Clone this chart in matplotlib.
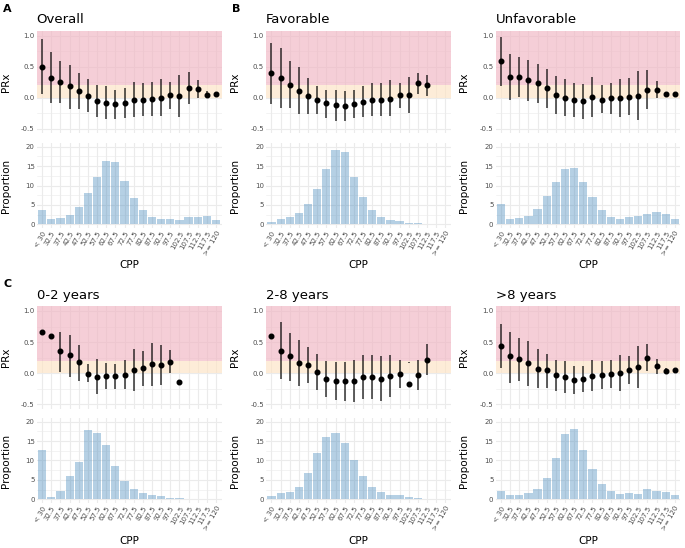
import matplotlib
matplotlib.use("Agg")
import matplotlib.pyplot as plt
import numpy as np

nan = np.nan

cpp_labels = ["< 30", "32.5", "37.5", "42.5", "47.5", "52.5", "57.5", "62.5", "67.5",
              "72.5", "77.5", "82.5", "87.5", "92.5", "97.5", "102.5", "107.5",
              "112.5", "117.5", ">= 120"]

# Overall
overall_prx = [0.50, 0.32, 0.25, 0.18, 0.11, 0.03, -0.05, -0.08, -0.10, -0.09,
               -0.04, -0.03, -0.02, 0.00, 0.04, 0.02, 0.15, 0.145, 0.04, 0.06]
overall_lo = [0.06, -0.09, -0.09, -0.18, -0.19, -0.23, -0.31, -0.34, -0.34, -0.33,
              -0.32, -0.29, -0.30, -0.29, -0.18, -0.32, -0.11, 0.00, 0.00, nan]
overall_hi = [0.94, 0.74, 0.59, 0.53, 0.40, 0.30, 0.20, 0.18, 0.13, 0.16,
              0.25, 0.23, 0.25, 0.30, 0.26, 0.36, 0.41, 0.28, 0.10, nan]
overall_prop = [3.7, 1.4, 1.6, 2.4, 4.5, 8.0, 12.2, 16.3, 16.0, 11.2,
                6.8, 3.6, 1.9, 1.4, 1.4, 1.1, 1.9, 1.8, 2.1, 1.2]

# Favorable
fav_prx = [0.39, 0.32, 0.21, 0.11, 0.03, -0.04, -0.09, -0.12, -0.13, -0.11,
           -0.065, -0.03, -0.03, -0.015, 0.04, 0.04, 0.24, 0.20, nan, nan]
fav_lo = [-0.10, -0.16, -0.17, -0.26, -0.26, -0.26, -0.33, -0.37, -0.37, -0.33,
          -0.32, -0.29, -0.29, -0.29, -0.16, -0.24, 0.06, 0.03, nan, nan]
fav_hi = [0.88, 0.80, 0.59, 0.49, 0.32, 0.19, 0.13, 0.12, 0.10, 0.13,
          0.19, 0.23, 0.23, 0.28, 0.23, 0.33, 0.40, 0.36, nan, nan]
fav_prop = [0.6, 1.3, 1.8, 2.8, 5.2, 9.1, 14.2, 19.1, 18.6, 12.2,
            7.0, 3.7, 1.9, 1.1, 0.8, 0.35, 0.25, 0.1, 0.02, 0.0]

# Unfavorable
unfav_prx = [0.59, 0.33, 0.33, 0.28, 0.23, 0.15, 0.04, 0.00, -0.04, -0.06,
             0.01, -0.03, -0.01, -0.01, 0.01, 0.02, 0.12, 0.13, 0.065, 0.055]
unfav_lo = [0.19, -0.04, 0.01, -0.05, -0.08, -0.16, -0.27, -0.30, -0.32, -0.34,
            -0.32, -0.25, -0.26, -0.31, -0.28, -0.36, -0.19, 0.00, nan, nan]
unfav_hi = [0.98, 0.70, 0.65, 0.61, 0.54, 0.46, 0.35, 0.30, 0.23, 0.22,
            0.34, 0.20, 0.24, 0.30, 0.31, 0.43, 0.44, 0.27, nan, nan]
unfav_prop = [5.2, 1.4, 1.6, 2.1, 4.0, 7.4, 10.9, 14.2, 14.4, 10.9,
              7.0, 3.6, 1.9, 1.4, 2.0, 2.1, 2.6, 3.1, 2.7, 1.4]

# 0-2 years
y02_prx = [0.66, 0.60, 0.35, 0.29, 0.18, -0.005, -0.06, -0.05, -0.05, -0.02,
           0.05, 0.08, 0.15, 0.125, 0.185, -0.135, nan, nan, nan, nan]
y02_lo = [0.195, 0.145, 0.02, -0.06, -0.125, -0.14, -0.34, -0.245, -0.245, -0.26,
          -0.28, -0.21, -0.20, -0.19, 0.005, nan, nan, nan, nan, nan]
y02_hi = [0.205, 0.155, 0.67, 0.62, 0.45, 0.15, 0.23, 0.16, 0.15, 0.22,
          0.39, 0.36, 0.49, 0.45, 0.37, nan, nan, nan, nan, nan]
y02_prop = [12.6, 0.5, 2.2, 6.0, 9.5, 17.9, 17.0, 13.9, 8.5, 4.8,
            2.6, 1.7, 1.0, 0.75, 0.25, 0.25, 0.05, 0.0, 0.0, 0.0]

# 2-8 years
y28_prx = [0.60, 0.36, 0.27, 0.16, 0.135, 0.02, -0.09, -0.125, -0.125, -0.125,
           -0.065, -0.065, -0.09, -0.045, -0.005, -0.175, -0.03, 0.22, nan, nan]
y28_lo = [-0.08, -0.09, -0.12, -0.21, -0.16, -0.27, -0.375, -0.43, -0.44, -0.46,
          -0.42, -0.42, -0.45, -0.385, -0.23, 0.17, -0.27, -0.03, nan, nan]
y28_hi = [-0.07, 0.82, 0.64, 0.54, 0.42, 0.31, 0.20, 0.18, 0.18, 0.21,
          0.30, 0.29, 0.28, 0.30, 0.22, 0.18, 0.21, 0.47, nan, nan]
y28_prop = [0.8, 1.6, 1.9, 3.1, 6.9, 11.9, 16.1, 17.1, 14.5, 10.2,
            5.9, 3.3, 1.9, 1.1, 1.0, 0.7, 0.4, 0.15, 0.05, 0.02]

# >8 years
y8_prx = [0.43, 0.27, 0.23, 0.17, 0.075, 0.045, -0.03, -0.065, -0.10, -0.09,
          -0.04, -0.02, -0.01, 0.01, 0.045, 0.10, 0.25, 0.115, 0.04, 0.055]
y8_lo = [0.08, -0.15, -0.125, -0.20, -0.24, -0.235, -0.28, -0.32, -0.33, -0.30,
         -0.28, -0.245, -0.23, -0.28, -0.18, -0.235, 0.03, -0.005, 0.00, nan]
y8_hi = [0.79, 0.67, 0.57, 0.52, 0.39, 0.315, 0.21, 0.19, 0.12, 0.12,
         0.21, 0.20, 0.21, 0.30, 0.28, 0.445, 0.47, 0.23, 0.09, nan]
y8_prop = [2.2, 1.2, 1.2, 1.5, 2.7, 5.6, 10.7, 16.9, 18.1, 12.7,
           7.9, 3.9, 2.1, 1.3, 1.5, 1.3, 2.7, 2.2, 1.9, 1.0]

panels = [
    ("A", "Overall", overall_prx, overall_lo, overall_hi, overall_prop),
    ("B", "Favorable", fav_prx, fav_lo, fav_hi, fav_prop),
    (None, "Unfavorable", unfav_prx, unfav_lo, unfav_hi, unfav_prop),
    ("C", "0-2 years", y02_prx, y02_lo, y02_hi, y02_prop),
    (None, "2-8 years", y28_prx, y28_lo, y28_hi, y28_prop),
    (None, ">8 years", y8_prx, y8_lo, y8_hi, y8_prop),
]

W, H = 685, 548
fig = plt.figure(figsize=(W / 100, H / 100), dpi=100)

col_left = [36.7, 266.0, 495.5]
pw = 184.8
# (top, bottom) in pixels for PRx and proportion axes per row, plus CPP label y
rows = [((31.0, 133.3), (142.8, 228.2), 265.5), ((306.3, 409.1), (417.8, 503.2), 541.5)]

grid_col = "#EBEBEB"
tick_col = "#4D4D4D"
x = np.arange(len(cpp_labels))


def px_axes(left, top, bottom):
    return fig.add_axes([left / W, 1 - bottom / H, pw / W, (bottom - top) / H])


def style(ax):
    for s in ax.spines.values():
        s.set_visible(False)
    ax.tick_params(which="both", length=0, labelsize=5, colors=tick_col, pad=1.5)
    ax.grid(which="major", color=grid_col, lw=0.8, zorder=0)
    ax.grid(which="minor", color=grid_col, lw=0.4, zorder=0)
    ax.set_axisbelow(True)
    ax.set_xlim(-0.6, len(cpp_labels) - 0.4)
    ax.set_xticks(x)


for i, (letter, title, prx, lo, hi, prop) in enumerate(panels):
    r, c = divmod(i, 3)
    left = col_left[c]
    (t1, b1), (t2, b2), ylab = rows[r]

    ax1 = px_axes(left, t1, b1)
    style(ax1)
    ax1.axhspan(0.2, 1.2, color="#F0B5C2", alpha=0.65, lw=0, zorder=1)
    ax1.axhspan(0.0, 0.2, color="#FDE3C4", alpha=0.65, lw=0, zorder=1)
    prx = np.array(prx, float)
    lo = np.array(lo, float)
    hi = np.array(hi, float)
    ax1.vlines(x, lo, hi, color="black", alpha=0.8, lw=1.1, zorder=3)
    ax1.plot(x, prx, "o", color="black", ms=3.3, zorder=4)
    ax1.set_ylim(-0.575, 1.075)
    ax1.set_yticks([-0.5, 0.0, 0.5, 1.0])
    ax1.set_yticklabels(["-0.5", "0.0", "0.5", "1.0"])
    ax1.set_yticks([-0.25, 0.25, 0.75], minor=True)
    ax1.set_xticklabels([])
    ax1.set_ylabel("PRx", fontsize=7.5)
    ax1.yaxis.set_label_coords(-26 / pw, 0.5)
    ax1.set_title(title, loc="left", fontsize=9.5, pad=5.5)

    ax2 = px_axes(left, t2, b2)
    style(ax2)
    ax2.bar(x, prop, width=0.9, color="#4F8FC0", alpha=0.42, lw=0, zorder=2)
    ax2.set_ylim(-1, 21)
    ax2.set_yticks([0, 5, 10, 15, 20])
    ax2.set_yticks([2.5, 7.5, 12.5, 17.5], minor=True)
    ax2.set_xticklabels(cpp_labels, rotation=60, ha="right", rotation_mode="anchor")
    ax2.set_ylabel("Proportion", fontsize=7.5)
    ax2.yaxis.set_label_coords(-26 / pw, 0.5)
    fig.text((left + pw / 2) / W, 1 - ylab / H, "CPP", fontsize=7.5,
             ha="center", va="center")

    if letter is not None:
        fig.text((left - 33.5) / W, 1 - (t1 - 27) / H, letter, fontsize=8,
                 fontweight="bold", va="top", ha="left")

fig.savefig("out.png", dpi=100)
